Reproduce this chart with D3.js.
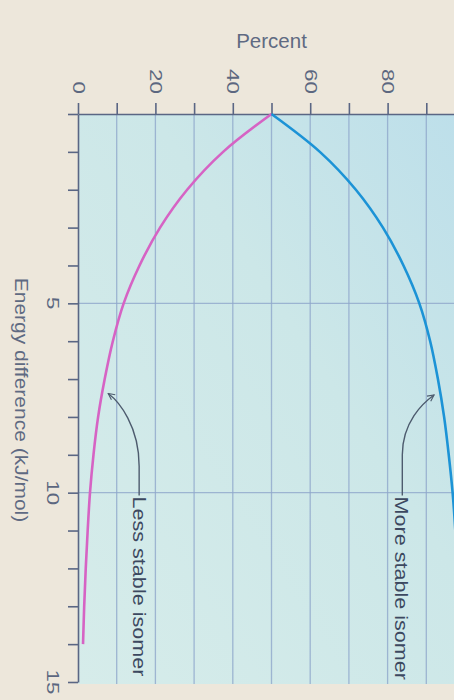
<!DOCTYPE html>
<html>
<head>
<meta charset="utf-8">
<script src="https://cdn.jsdelivr.net/npm/d3@7"></script>
<style>
  html, body { margin: 0; padding: 0; background: #ede7db; overflow: hidden; }
  svg { display: block; font-family: "Liberation Sans", Arial, sans-serif; }
</style>
</head>
<body>
<svg id="chart" width="454" height="700"></svg>
<script>
// energy difference (kJ/mol) and the equilibrium percent of each isomer
const energies = [0, 1, 2, 3, 4, 5, 6, 7, 8, 9, 10, 11, 12, 13, 14];
const moreStable = [50, 62.5, 71.8, 78.8, 84.1, 88.2, 91.0, 93.0, 94.6, 95.8, 96.8, 97.5, 98.0, 98.4, 98.7];
const lessStable = [50, 37.5, 28.2, 21.2, 15.9, 11.8, 9.0, 6.9, 5.2, 4.0, 3.1, 2.5, 2.0, 1.6, 1.3];

const percentTicks = [0, 20, 40, 60, 80];
const energyTicks = [5, 10, 15];

// annotations: text start + leader + arrow tip, in data units
const notes = [
  { text: "More stable isomer", pct: 81.8, e: 10.1, leadPct: 83.8, bendE: 9.0, tipPct: 92.0, tipE: 7.42 },
  { text: "Less stable isomer", pct: 14.1, e: 10.1, leadPct: 15.8, bendE: 9.3, tipPct: 7.8, tipE: 7.38 }
];

const width = 454, height = 700;
const x = d3.scaleLinear().domain([0, 100]).range([78, 465]);
const y = d3.scaleLinear().domain([0, 15]).range([114, 682]);

const svg = d3.select("#chart");
const axisColor = "#5a6684";
const gridColor = "#90a8cc";

// background gradient of the plot panel
const defs = svg.append("defs");
const grad = defs.append("linearGradient").attr("id", "panel")
  .attr("x1", "0").attr("y1", "1").attr("x2", "1").attr("y2", "0");
grad.append("stop").attr("offset", "0%").attr("stop-color", "#d6ecea");
grad.append("stop").attr("offset", "60%").attr("stop-color", "#cce7e8");
grad.append("stop").attr("offset", "100%").attr("stop-color", "#bddfea");

defs.append("marker").attr("id", "arrow")
  .attr("viewBox", "0 0 10 10").attr("refX", 9).attr("refY", 5)
  .attr("markerWidth", 8).attr("markerHeight", 8)
  .attr("markerUnits", "userSpaceOnUse").attr("orient", "auto")
  .append("path").attr("d", "M1,1 L9,5 L1,9")
  .attr("fill", "none").attr("stroke", "#4d5b6e").attr("stroke-width", 1.4);

svg.append("rect")
  .attr("x", x(0)).attr("y", y(0))
  .attr("width", width - x(0)).attr("height", y(15) - y(0) + 2)
  .attr("fill", "url(#panel)");

// grid
svg.append("g").selectAll("line")
  .data(d3.range(10, 101, 10))
  .join("line")
  .attr("x1", d => x(d)).attr("x2", d => x(d))
  .attr("y1", y(0)).attr("y2", y(15) + 2)
  .attr("stroke", gridColor).attr("stroke-width", 1.3).attr("opacity", 0.8);

svg.append("g").selectAll("line")
  .data([5, 10])
  .join("line")
  .attr("x1", x(0)).attr("x2", width)
  .attr("y1", d => y(d)).attr("y2", d => y(d))
  .attr("stroke", gridColor).attr("stroke-width", 1.3).attr("opacity", 0.8);

// axes
const topAxis = svg.append("g")
  .attr("transform", `translate(0,${y(0)})`)
  .call(d3.axisTop(x).tickValues(d3.range(0, 101, 10)).tickSize(11).tickSizeOuter(0).tickFormat(""));
const leftAxis = svg.append("g")
  .attr("transform", `translate(${x(0)},0)`)
  .call(d3.axisLeft(y).tickValues(d3.range(0, 16)).tickSize(10).tickSizeOuter(0).tickFormat(""));
[topAxis, leftAxis].forEach(g => {
  g.selectAll("path, line").attr("stroke", axisColor).attr("stroke-width", 1.6);
});

// rotated text helper (reads top to bottom)
function rotText(px, py, str, size, anchor, color, stretch = 1.2) {
  return svg.append("text")
    .attr("transform", `translate(${px},${py}) rotate(90) scale(${stretch},1)`)
    .attr("text-anchor", anchor)
    .attr("font-size", size)
    .attr("fill", color)
    .text(str);
}

percentTicks.forEach(t => rotText(x(t) - 5.5, 94, t, 16, "end", "#5c6780", 1.4));
energyTicks.forEach(t => rotText(47, y(t), t, 16, "middle", "#5c6780", 1.4));

rotText(15, (y(0) + y(15)) / 2 + 2, "Energy difference (kJ/mol)", 17.5, "middle", "#5f6a82");

svg.append("text")
  .attr("x", x(50)).attr("y", 48)
  .attr("text-anchor", "middle")
  .attr("font-size", 20.5)
  .attr("fill", "#5f6a82")
  .text("Percent");

// curves
const line = d3.line()
  .x(d => x(d[1]))
  .y(d => y(d[0]))
  .curve(d3.curveCatmullRom.alpha(0.5));

svg.append("path")
  .datum(energies.map((e, i) => [e, lessStable[i]]))
  .attr("d", line)
  .attr("fill", "none").attr("stroke", "#d663c4").attr("stroke-width", 2.6);

svg.append("path")
  .datum(energies.map((e, i) => [e, moreStable[i]]))
  .attr("d", line)
  .attr("fill", "none").attr("stroke", "#1c93d6").attr("stroke-width", 2.6);

// annotations
notes.forEach(n => {
  const sx = x(n.leadPct), sy = y(n.e) - 1;
  const by = y(n.bendE);
  const tx = x(n.tipPct), ty = y(n.tipE);
  const p = d3.path();
  p.moveTo(sx, sy);
  p.lineTo(sx, by);
  p.bezierCurveTo(sx, by - (by - ty) * 0.55, tx + (sx - tx) * 0.35, ty + 8, tx, ty);
  svg.append("path")
    .attr("d", p.toString())
    .attr("fill", "none").attr("stroke", "#4d5b6e").attr("stroke-width", 1.4)
    .attr("marker-end", "url(#arrow)");
  rotText(x(n.pct), y(n.e), n.text, 18, "start", "#3c4860");
});
</script>
